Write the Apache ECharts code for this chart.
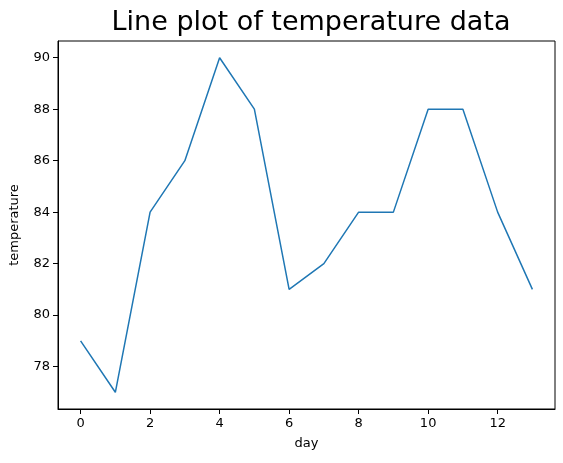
<!DOCTYPE html>
<html><head><meta charset="utf-8">
<script src="https://cdn.jsdelivr.net/npm/echarts@6/dist/echarts.min.js"></script>
<style>body{margin:0}#c{width:563px;height:463px}</style></head>
<body><div id="c"></div>
<script>
const days=[0,1,2,3,4,5,6,7,8,9,10,11,12,13];
const temps=[79,77,84,86,90,88,81,82,84,84,88,88,84,81];
const xTicks=[0,2,4,6,8,10,12];
const yTicks=[78,80,82,84,86,88,90];
const font='DejaVu Sans';
const chart=echarts.init(document.getElementById('c'));
chart.setOption({
  animation:false,
  title:{text:'Line plot of temperature data',left:306,top:4,textAlign:'center',
    textStyle:{fontFamily:font,fontSize:27,fontWeight:'normal',color:'#000'}},
  grid:{left:57,right:8,top:41,bottom:54,show:true,borderColor:'#000',borderWidth:1},
  xAxis:{type:'value',min:-0.65,max:13.65,name:'day',nameLocation:'middle',nameGap:28,
    nameTextStyle:{fontFamily:font,fontSize:13,color:'#000'},
    axisLine:{onZero:false,lineStyle:{color:'#000'}},splitLine:{show:false},
    axisTick:{customValues:xTicks,length:5,inside:false,lineStyle:{color:'#000'}},
    axisLabel:{customValues:xTicks,fontFamily:font,fontSize:13,color:'#000',margin:8}},
  yAxis:{type:'value',min:76.35,max:90.65,name:'temperature',nameLocation:'middle',nameGap:37,
    nameTextStyle:{fontFamily:font,fontSize:13,color:'#000'},
    axisLine:{show:true,onZero:false,lineStyle:{color:'#000'}},splitLine:{show:false},
    axisTick:{show:true,inside:false,customValues:yTicks,length:5,lineStyle:{color:'#000'}},
    axisLabel:{customValues:yTicks,fontFamily:font,fontSize:13,color:'#000',margin:8}},
  series:[{type:'line',data:days.map((d,i)=>[d,temps[i]]),showSymbol:false,
    lineStyle:{color:'#1f77b4',width:1.5},itemStyle:{color:'#1f77b4'}}]
});
</script></body></html>
